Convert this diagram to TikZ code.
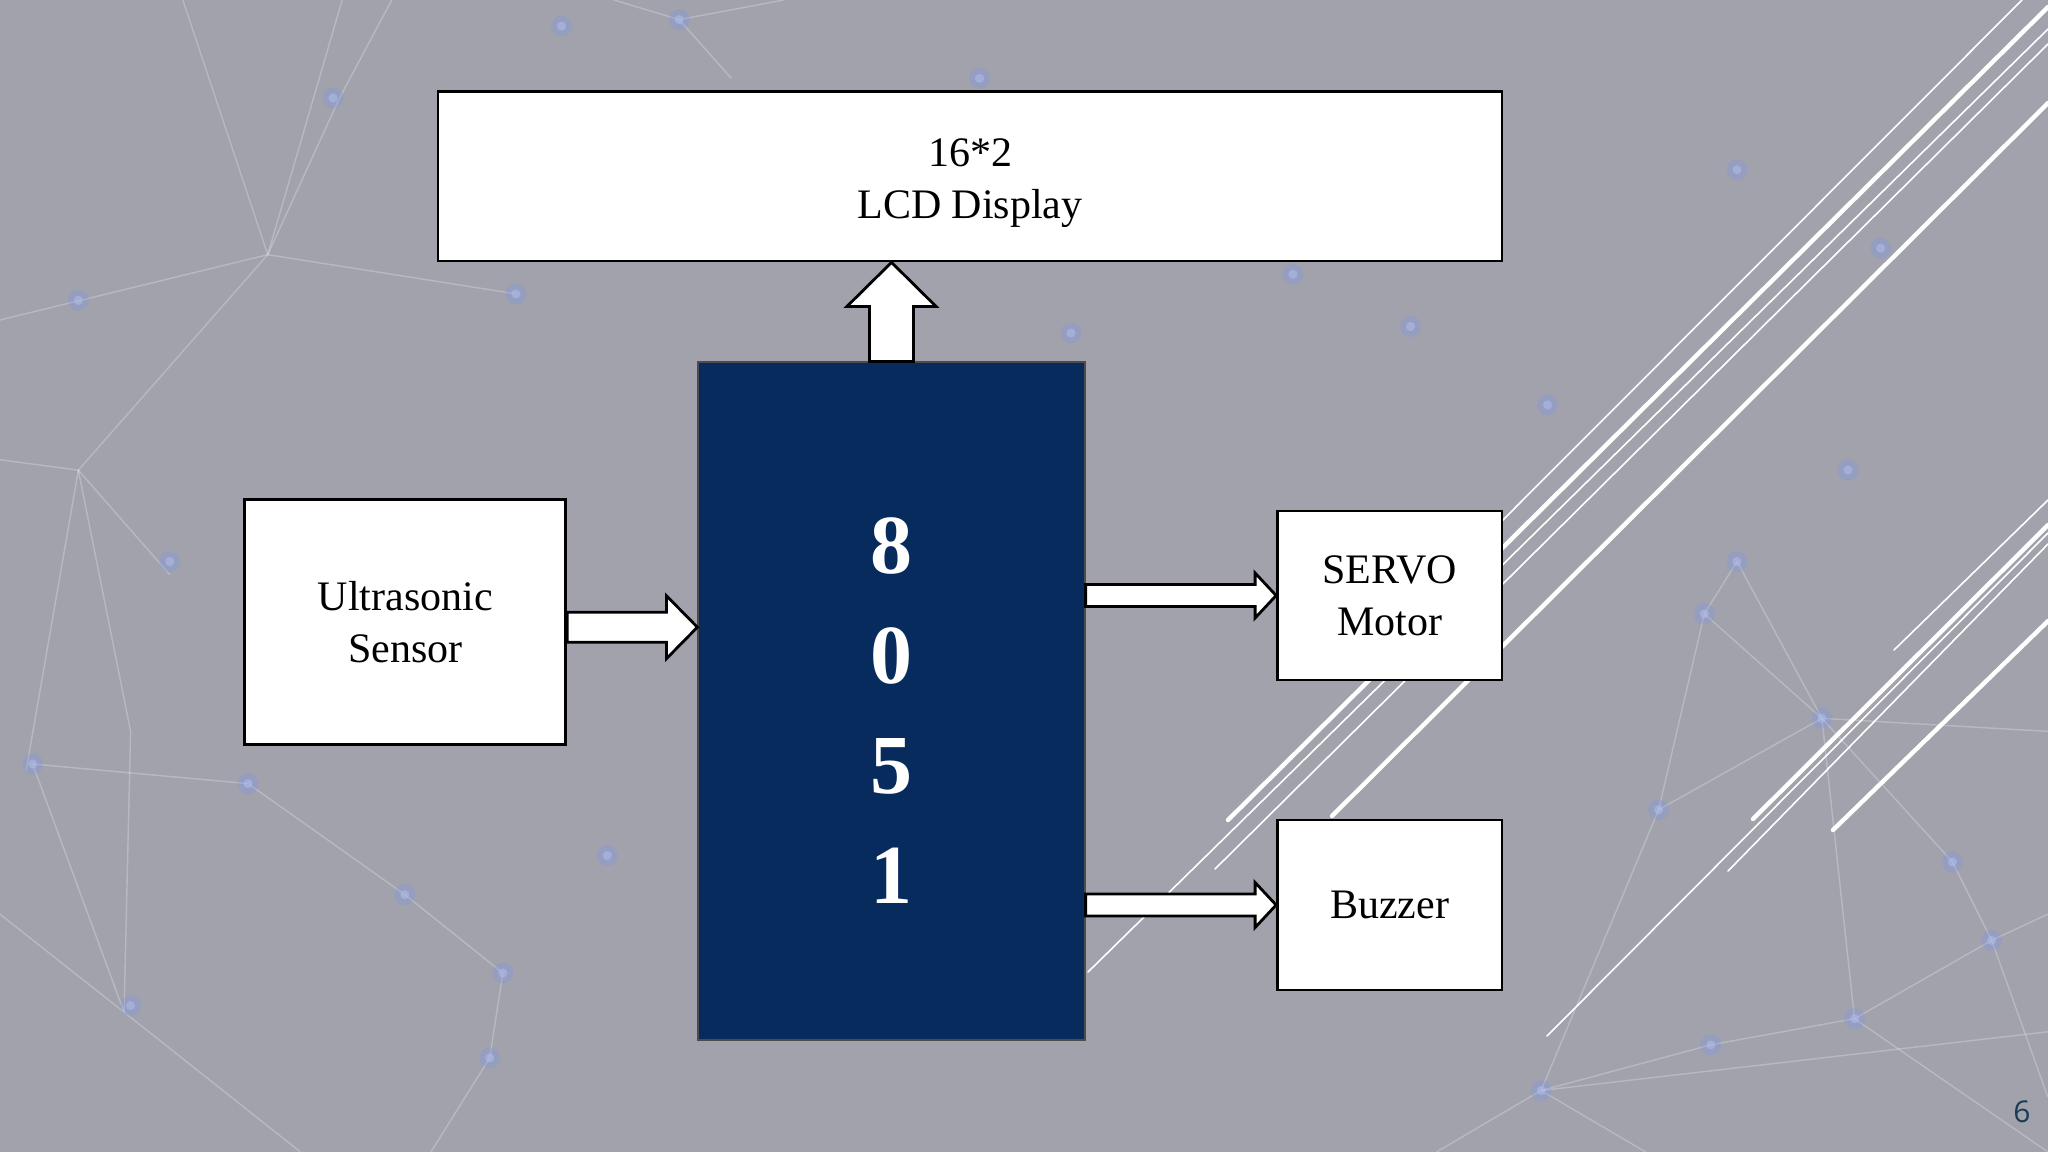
\documentclass[tikz,border=0pt]{standalone}
\usepackage{fontspec}
\setmainfont{Liberation Serif}
\newfontfamily\pagefont{Open Sans}
\usetikzlibrary{calc}
\definecolor{bg}{RGB}{161,162,172}
\definecolor{navy}{RGB}{8,43,94}
\definecolor{pagenum}{RGB}{27,59,82}
\definecolor{glow}{RGB}{125,150,235}
\begin{document}
\begin{tikzpicture}[x=0.5pt,y=-0.5pt,
  box/.style={draw=black,line width=1.4pt,fill=white,inner sep=0pt,
    font=\fontsize{21}{26}\selectfont,align=center},
  boxtext/.style={font=\fontsize{21}{26}\selectfont,align=center,inner sep=0pt},
  blockarrow/.style={draw=black,line width=1.4pt,fill=white,line join=miter},
  net/.style={white,opacity=0.25,line width=0.7pt},
  glowdot/.style={fill=glow,opacity=0.3},
  glowcore/.style={fill=glow!60!white,opacity=0.5},
  streak/.style={white,line cap=round},
  thinstreak/.style={streak,line width=0.8pt},
  thickstreak/.style={streak,line width=2.2pt}]

\fill[bg] (0,0) rectangle (2048,1152);
\useasboundingbox (0,0) rectangle (2048,1152);

% faint network in the background (coordinates of the shrunk view)
\begin{scope}[x=0.653pt,y=-0.653pt]
  \draw[net] (262,0) -- (205,195) -- (0,245);
  \draw[net] (205,195) -- (60,360);
  \draw[net] (205,195) -- (395,225);
  \draw[net] (205,195) -- (260,75) -- (300,0);
  \draw[net] (205,195) -- (140,0);
  \draw[net] (60,360) -- (0,352);
  \draw[net] (60,360) -- (100,560) -- (95,775);
  \draw[net] (60,360) -- (130,440);
  \draw[net] (60,360) -- (20,590);
  \draw[net] (95,775) -- (0,700);
  \draw[net] (95,775) -- (230,882);
  \draw[net] (95,775) -- (25,585) -- (190,600) -- (310,685) -- (385,745) -- (375,810) -- (330,882);
  \draw[net] (520,15) -- (470,0);
  \draw[net] (520,15) -- (560,60);
  \draw[net] (520,15) -- (600,0);
  \draw[net] (1395,550) -- (1330,430);
  \draw[net] (1395,550) -- (1305,470);
  \draw[net] (1395,550) -- (1495,660);
  \draw[net] (1395,550) -- (1568,560);
  \draw[net] (1395,550) -- (1270,620);
  \draw[net] (1395,550) -- (1420,780);
  \draw[net] (1330,430) -- (1305,470) -- (1270,620) -- (1180,835);
  \draw[net] (1180,835) -- (1100,882);
  \draw[net] (1180,835) -- (1568,790);
  \draw[net] (1180,835) -- (1310,800) -- (1420,780) -- (1525,720) -- (1568,700);
  \draw[net] (1495,660) -- (1525,720) -- (1568,840);
  \draw[net] (1420,780) -- (1568,882);
  \draw[net] (1180,835) -- (1260,882);
  \foreach \p in {(255,75),(395,225),(60,230),(430,20),(520,15),(750,60),
      (820,255),(990,210),(1080,250),(1330,130),(1440,190),(1185,310),
      (1415,360),(1330,430),(1305,470),(1395,550),(1270,620),(1310,800),
      (1420,780),(1495,660),(1525,720),(1180,835),(25,585),(100,770),
      (190,600),(310,685),(385,745),(375,810),(465,655),(130,430)}
    {\fill[glowdot] \p circle (8);
     \fill[glowcore] \p circle (3.5);}
\end{scope}

% white diagonal streaks
\draw[thinstreak]  (1420,603) -- (2022,0);
\draw[thickstreak] (1228,820) -- (2048,7);
\draw[thinstreak]  (1088,972) -- (2048,29);
\draw[thinstreak]  (1215,869) -- (2048,44);
\draw[thickstreak] (1332,816) -- (2048,103);
\draw[thinstreak]  (1894,650) -- (2048,500);
\draw[thickstreak] (1753,819) -- (2048,525);
\draw[thinstreak]  (1728,871) -- (2048,544);
\draw[thickstreak] (1833,830) -- (2048,621);
\draw[thinstreak]  (1547,1036) -- (2048,533);

% blocks
\node[box,minimum width=532pt,minimum height=84.75pt] (lcd) at (970,176.25) {};
\node[boxtext] (lcdtext) at (970,183) {16*2\\LCD Display};
\node[box,minimum width=160.6pt,minimum height=122.4pt] (us) at (405.2,622.2) {Ultrasonic\\Sensor};
\node[draw=black!70,line width=0.6pt,fill=navy,inner sep=0pt,
      minimum width=193.5pt,minimum height=339pt] (mcu) at (891.5,701) {};
\node[text=white,align=center,font=\fontsize{42}{55}\selectfont\bfseries] (mcutext) at (891.5,710.5) {8\\0\\5\\1};
\node[box,minimum width=112.25pt,minimum height=84.5pt] (sv) at (1389.75,595.5) {SERVO\\Motor};
\node[box,minimum width=112.25pt,minimum height=85pt] (bz) at (1389.75,905) {Buzzer};

% block arrows
\coordinate (ub) at (mcu.north);
\coordinate (ut) at (lcd.south -| mcu.north);
\draw[blockarrow] ($(ub)+(-22,0)$) -- ($(ut)+(-22,44)$) -- ($(ut)+(-44.5,44)$) -- (ut)
  -- ($(ut)+(44.5,44)$) -- ($(ut)+(22,44)$) -- ($(ub)+(22,0)$) -- cycle;

\coordinate (us0) at ($(us.east)+(0,5)$);
\coordinate (us1) at (mcu.west |- us0);
\draw[blockarrow] ($(us0)+(0,-15)$) -- ($(us1)+(-31,-15)$) -- ($(us1)+(-31,-31.5)$) -- (us1)
  -- ($(us1)+(-31,31.5)$) -- ($(us1)+(-31,15)$) -- ($(us0)+(0,15)$) -- cycle;

\coordinate (sv0) at (mcu.east |- sv.west);
\draw[blockarrow] ($(sv0)+(0,-11)$) -- ($(sv.west)+(-21,-11)$) -- ($(sv.west)+(-21,-22.5)$) -- (sv.west)
  -- ($(sv.west)+(-21,22.5)$) -- ($(sv.west)+(-21,11)$) -- ($(sv0)+(0,11)$) -- cycle;

\coordinate (bz0) at (mcu.east |- bz.west);
\draw[blockarrow] ($(bz0)+(0,-11)$) -- ($(bz.west)+(-21,-11)$) -- ($(bz.west)+(-21,-22.5)$) -- (bz.west)
  -- ($(bz.west)+(-21,22.5)$) -- ($(bz.west)+(-21,11)$) -- ($(bz0)+(0,11)$) -- cycle;

% page number
\node[font=\pagefont\fontsize{15}{18}\selectfont,text=pagenum] (pg) at (2022,1112) {6};
\end{tikzpicture}
\end{document}
